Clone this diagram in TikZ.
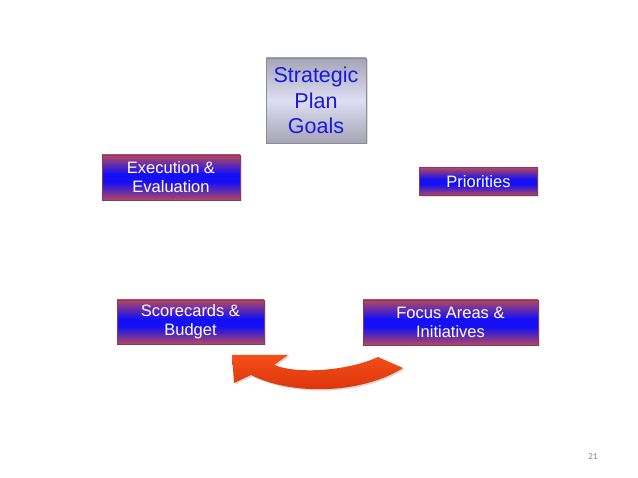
\documentclass[tikz,border=0pt]{standalone}
\usepackage{fontspec}
\setmainfont{Liberation Sans}
\newfontfamily\pagefont{Carlito}
\usetikzlibrary{shadows}
\definecolor{boxedge}{RGB}{178,72,98}
\definecolor{boxmid}{RGB}{20,15,245}
\definecolor{grayedge}{RGB}{165,165,180}
\definecolor{graymid}{RGB}{222,222,244}
\definecolor{goaltext}{RGB}{25,25,225}
\definecolor{arrowtop}{RGB}{245,78,25}
\definecolor{arrowbot}{RGB}{215,50,10}
\definecolor{pagegray}{RGB}{130,130,130}
\pgfdeclareverticalshading{bluebar}{100bp}{color(0bp)=(boxedge); color(25bp)=(boxedge); color(45bp)=(boxmid); color(54bp)=(boxmid); color(75bp)=(boxedge); color(100bp)=(boxedge)}
\pgfdeclareverticalshading{graybar}{100bp}{color(0bp)=(grayedge); color(25bp)=(grayedge); color(50bp)=(graymid); color(75bp)=(grayedge); color(100bp)=(grayedge)}
\tikzset{
  bluebox/.style={draw=boxedge!80!black, line width=0.4pt,
    shading=bluebar, shading angle=0,
    text=white, font=\fontsize{16.5}{19}\selectfont, align=center,
    inner sep=0pt,
    drop shadow={opacity=0.25, shadow xshift=1.5pt, shadow yshift=-1.5pt}},
  graybox/.style={draw=grayedge!85!black, line width=0.3pt,
    shading=graybar, shading angle=0,
    text=goaltext, font=\fontsize{21.5}{25.5}\selectfont, align=center,
    inner sep=0pt,
    drop shadow={opacity=0.25, shadow xshift=1.5pt, shadow yshift=-1.5pt}},
  bigarrow/.style={top color=arrowtop, bottom color=arrowbot, draw=none}
}
\begin{document}
\begin{tikzpicture}[x=1pt,y=-1pt]
\useasboundingbox (0,0) rectangle (638,478);
\fill[white] (0,0) rectangle (638,478);

\node[graybox, minimum width=100pt, minimum height=85pt] (goals) at (316,100.5) {Strategic\\Plan\\Goals};
\node[bluebox, minimum width=138pt, minimum height=45pt] (exec) at (171,177.5) {Execution \&\\Evaluation};
\node[bluebox, minimum width=118pt, minimum height=28pt] (prio) at (478.5,181.5) {Priorities};
\node[bluebox, minimum width=147pt, minimum height=44pt] (score) at (190.5,322) {Scorecards \&\\Budget};
\node[bluebox, minimum width=175pt, minimum height=45pt] (focus) at (450.5,322.5) {Focus Areas \&\\Initiatives};

% curved arrow
\fill[black, opacity=0.15, xshift=1.5pt, yshift=-1.5pt]
  (378,357) .. controls (350,370) and (300,375) .. (274,365)
  -- (288,355) -- (232,355) -- (234,383) -- (251,375)
  .. controls (290,395) and (360,395) .. (403,368) -- cycle;
\path[bigarrow]
  (378,357) .. controls (350,370) and (300,375) .. (274,365)
  -- (288,355) -- (232,355) -- (234,383) -- (251,375)
  .. controls (290,395) and (360,395) .. (403,368) -- cycle;

\node[text=pagegray, font=\pagefont\fontsize{9}{10}\selectfont] (pnum) at (593,457) {21};
\end{tikzpicture}
\end{document}
